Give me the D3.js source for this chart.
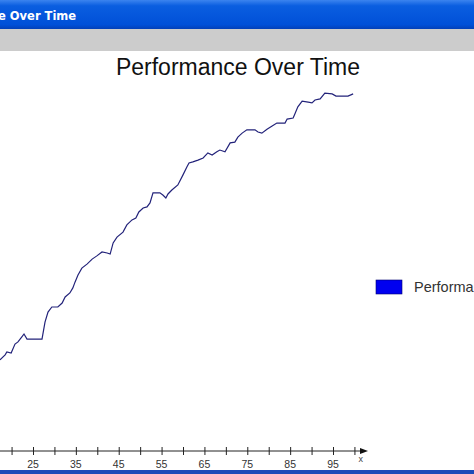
<!DOCTYPE html>
<html>
<head>
<meta charset="utf-8">
<script src="https://cdn.jsdelivr.net/npm/d3@7"></script>
<style>
  html, body { margin:0; padding:0; background:#fff; overflow:hidden; }
  svg { display:block; font-family:"Liberation Sans", Arial, sans-serif; }
</style>
</head>
<body>
<div id="chart"></div>
<script>
// data (x in time units, y in performance units)
var time_values=[17.3,18.5,18.9,19.9,20.8,21.5,22.4,22.9,23.6,27.1,27.8,28.5,29.4,30.8,31.8,32.5,33.6,34.3,34.8,35.5,
  36.4,37.6,38.8,39.9,41.1,42.3,43.0,43.7,44.6,46.0,46.9,48.1,49.0,49.7,50.7,51.6,52.3,53.0,54.6,55.3,
  56.0,56.5,57.4,58.8,60.0,60.9,61.4,62.3,63.5,64.7,65.8,66.8,67.9,68.6,69.8,71.0,72.1,72.8,73.8,74.9,
  76.8,77.5,78.4,79.6,80.8,81.9,83.8,84.3,85.7,86.1,86.8,87.8,89.2,90.1,90.8,92.0,93.1,94.8,95.7,98.5,99.7];
var perf_values=[25.3,26.7,27.5,27.2,29.7,30.3,31.7,32.5,31.1,31.1,35.8,38.6,40.0,40.0,41.1,42.8,43.9,45.3,46.9,48.9,
  50.8,51.9,53.3,54.2,55.3,55.0,54.7,57.8,59.4,60.8,62.8,64.2,64.7,66.4,67.5,67.8,68.9,71.7,71.7,71.1,
  70.3,71.4,72.5,73.9,76.7,78.9,80.0,80.3,80.8,81.4,82.8,82.2,83.1,83.6,83.1,85.6,85.8,87.2,88.3,89.2,
  89.2,88.6,88.3,89.4,90.3,91.1,91.1,92.2,92.5,93.6,95.6,97.2,96.9,96.7,97.5,97.8,99.4,99.2,98.6,98.6,99.2];
var tick_values=[20,25,30,35,40,45,50,55,60,65,70,75,80,85,90,95,100];
var tick_labels=[25,35,45,55,65,75,85,95];
var chart_title="Performance Over Time";
var window_title="e Over Time";
var series_name="Performance";
var axis_name="x";

var W=474, H=474;
var svg=d3.select("#chart").append("svg").attr("width",W).attr("height",H);

// window chrome
var defs=svg.append("defs");
var grad=defs.append("linearGradient").attr("id","tbar").attr("x1",0).attr("y1",0).attr("x2",0).attr("y2",1);
grad.append("stop").attr("offset","0%").attr("stop-color","#3b84ef");
grad.append("stop").attr("offset","20%").attr("stop-color","#0a5ee0");
grad.append("stop").attr("offset","85%").attr("stop-color","#0050d8");
grad.append("stop").attr("offset","100%").attr("stop-color","#0340b8");
svg.append("rect").attr("x",0).attr("y",0).attr("width",W).attr("height",29).attr("fill","url(#tbar)");
svg.append("text").attr("x",-2).attr("y",20)
  .style("font-family","'DejaVu Sans', Tahoma, sans-serif").style("font-weight","bold")
  .style("font-size","11.5px").style("fill","#fff").text(window_title);
svg.append("rect").attr("x",0).attr("y",29).attr("width",W).attr("height",22).attr("fill","#cccccc");
svg.append("rect").attr("x",0).attr("y",470).attr("width",W).attr("height",4).attr("fill","#1c4ab8");

// scales
var x=d3.scaleLinear().domain([25,95]).range([33,333]);
var y=d3.scaleLinear().domain([0,100]).range([451,91]);

// title
svg.append("text").attr("x",238).attr("y",75).attr("text-anchor","middle")
  .style("font-size","23px").style("fill","#111").text(chart_title);

// x axis
var axisY=451;
var xAxis=d3.axisBottom(x).tickValues(tick_values).tickSize(4).tickFormat("");
var gx=svg.append("g").attr("transform","translate(0,"+axisY+")").call(xAxis);
gx.select(".domain").remove();
gx.selectAll(".tick line").attr("y1",-4).attr("stroke","#222");
svg.append("line").attr("x1",0).attr("x2",x(101.5)).attr("y1",axisY).attr("y2",axisY)
  .attr("stroke","#222").attr("stroke-width",1);
svg.append("path")
  .attr("d","M"+x(101.3)+","+(axisY-3)+"L"+(x(101.3)+8)+","+axisY+"L"+x(101.3)+","+(axisY+3)+"Z")
  .attr("fill","#111");
svg.append("g").selectAll("text").data(tick_labels).join("text")
  .attr("x",function(d){return x(d);}).attr("y",468).attr("text-anchor","middle")
  .style("font-size","10.5px").style("fill","#333").text(function(d){return d;});
svg.append("text").attr("x",x(101.5)).attr("y",462).attr("text-anchor","middle")
  .style("font-size","9px").style("fill","#444").text(axis_name);

// line
var pts=time_values.map(function(t,i){return {x:t,y:perf_values[i]};});
var line=d3.line().x(function(d){return x(d.x);}).y(function(d){return y(d.y);});
svg.append("path").attr("d",line(pts))
  .attr("fill","none").attr("stroke","#23237a").attr("stroke-width",1.2);

// legend
svg.append("rect").attr("x",376).attr("y",280).attr("width",26).attr("height",14)
  .attr("fill","#0000f0").attr("stroke","#000070").attr("stroke-width",0.6);
svg.append("text").attr("x",414).attr("y",292)
  .style("font-size","14.5px").style("fill","#333").text(series_name);
</script>
</body>
</html>
